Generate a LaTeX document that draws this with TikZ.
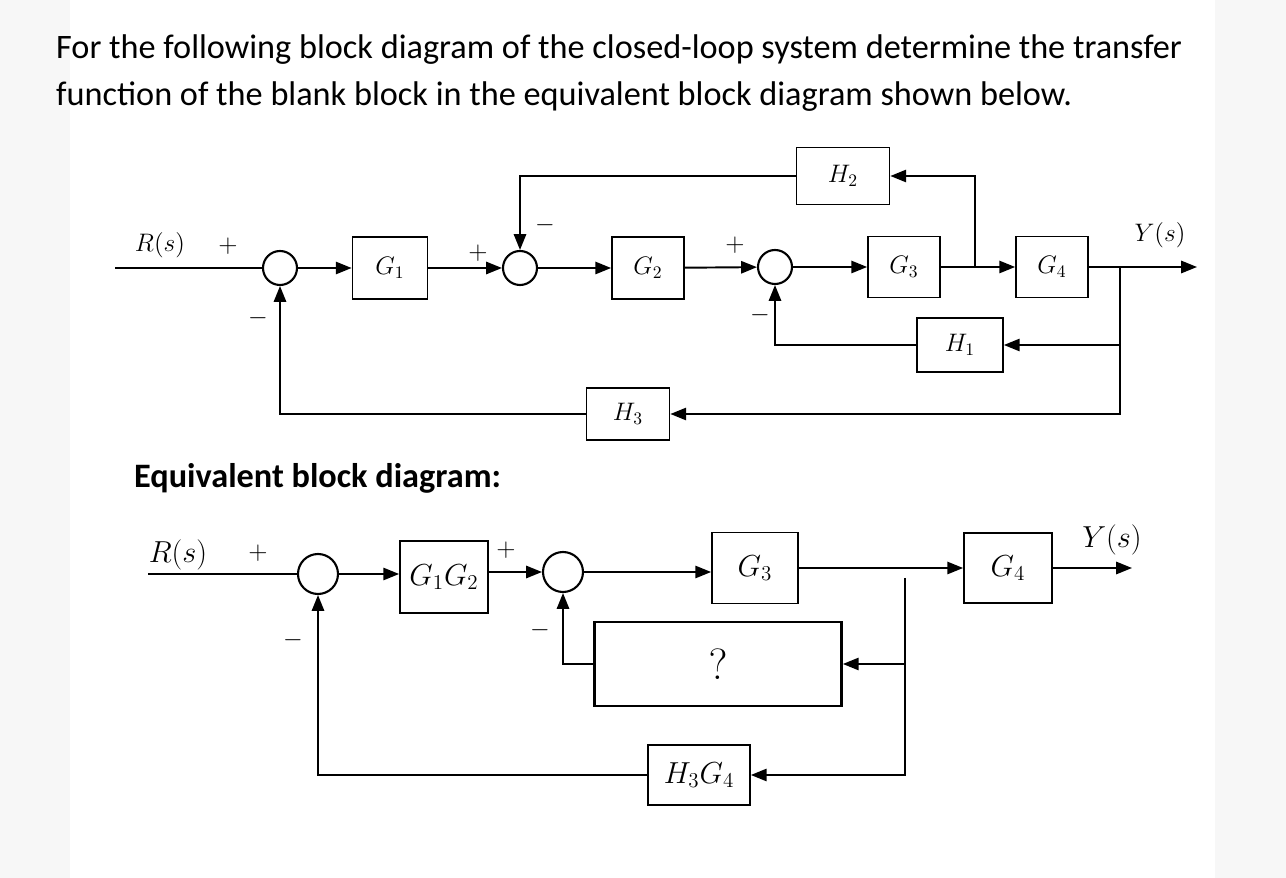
\documentclass[tikz,border=0pt]{standalone}
\usepackage{fontspec}
\setmainfont{Carlito}
\usetikzlibrary{arrows.meta}
\begin{document}
\begin{tikzpicture}[x=0.02cm,y=-0.02cm,
    block/.style={draw,line width=1pt,inner sep=0pt},
    sumnode/.style={draw,circle,line width=1.2pt,inner sep=0pt},
    sig/.style={line width=1.1pt},
    arr/.style={sig,-{Triangle[length=9pt,width=7pt]}},
    lbl/.style={font=\fontsize{14}{16}\selectfont},
    big/.style={font=\fontsize{17}{20}\selectfont}]
    \fill[gray!6] (0,0) rectangle (1286,878);
    \fill[white] (70,0) rectangle (1215,878);
    \useasboundingbox (0,0) rectangle (1286,878);

    % question
    \node[anchor=west,font=\fontsize{19.5}{23}\selectfont] at (50,50) {For the following block diagram of the closed-loop system determine the transfer};
    \node[anchor=west,font=\fontsize{19.5}{23}\selectfont] at (50,97) {function of the blank block in the equivalent block diagram shown below.};

    % original diagram
    \coordinate (in1) at (115,268);
    \node[sumnode,minimum size=0.68cm] (s1) at (280,268) {};
    \node[block,minimum width=1.5cm,minimum height=1.24cm,lbl] (g1) at (390,268) {$G_1$};
    \node[sumnode,minimum size=0.68cm] (s2) at (520,268) {};
    \node[block,minimum width=1.44cm,minimum height=1.24cm,lbl] (g2) at (648,268) {$G_2$};
    \node[sumnode,minimum size=0.68cm] (s3) at (775,267) {};
    \node[block,minimum width=1.44cm,minimum height=1.22cm,lbl] (g3) at (904,267) {$G_3$};
    \node[block,minimum width=1.44cm,minimum height=1.22cm,lbl] (g4) at (1052,267) {$G_4$};
    \coordinate (out1) at (1197,267);
    \node[block,minimum width=1.86cm,minimum height=1.14cm,lbl] (h2) at (843,176) {$H_2$};
    \node[block,minimum width=1.72cm,minimum height=1.08cm,lbl] (h1) at (960,345) {$H_1$};
    \node[block,minimum width=1.66cm,minimum height=1.04cm,lbl] (h3) at (628,414) {$H_3$};

    \draw[sig] (in1) -- (s1);
    \draw[arr] (s1) -- (g1);
    \draw[arr] (g1) -- (s2);
    \draw[arr] (s2) -- (g2);
    \draw[arr] (g2) -- (s3);
    \draw[arr] (s3) -- (g3);
    \draw[arr] (g3) -- (g4);
    \draw[arr] (g4) -- (out1);
    \draw[arr] (975,267) |- (h2);
    \draw[arr] (h2) -| (s2);
    \draw[arr] (1120,267) |- (h1);
    \draw[arr] (h1) -| (s3);
    \draw[arr] (1120,345) |- (h3);
    \draw[arr] (h3) -| (s1);

    \node[lbl] (r1) at (160,245) {$R(s)$};
    \node[lbl] (y1) at (1160,235) {$Y(s)$};
    \node[lbl] at (228,246) {$+$};
    \node[lbl] at (478,253) {$+$};
    \node[lbl] at (735,245) {$+$};
    \node[lbl] at (258,318) {$-$};
    \node[lbl] at (545,225) {$-$};
    \node[lbl] at (760,315) {$-$};

    % equivalent diagram
    \node[anchor=west,font=\bfseries\fontsize{19.5}{23}\selectfont] at (128,478) {Equivalent block diagram:};
    \coordinate (in2) at (148,574);
    \node[sumnode,minimum size=0.8cm] (sa) at (318,574) {};
    \node[block,minimum width=1.76cm,minimum height=1.44cm,big] (g12) at (444,577) {$G_1G_2$};
    \node[sumnode,minimum size=0.8cm] (sb) at (563,572) {};
    \node[block,minimum width=1.72cm,minimum height=1.42cm,big] (g3b) at (755,568) {$G_3$};
    \node[block,minimum width=1.76cm,minimum height=1.4cm,big] (g4b) at (1008,568) {$G_4$};
    \coordinate (out2) at (1132,568);
    \node[block,line width=1.6pt,minimum width=4.94cm,minimum height=1.68cm,font=\fontsize{24}{28}\selectfont] (q) at (718,664) {$?$};
    \node[block,minimum width=2.04cm,minimum height=1.2cm,big] (h34) at (699,775) {$H_3G_4$};

    \draw[sig] (in2) -- (sa);
    \draw[arr] (sa) -- (sa -| g12.west);
    \draw[arr] (g12.east |- sb) -- (sb);
    \draw[arr] (sb) -- (sb -| g3b.west);
    \draw[arr] (g3b) -- (g4b);
    \draw[arr] (g4b) -- (out2);
    \draw[arr] (905,578) |- (q);
    \draw[arr] (q) -| (sb);
    \draw[arr] (905,664) |- (h34);
    \draw[arr] (h34) -| (sa);

    \node[big] (r2) at (178,555) {$R(s)$};
    \node[big] (y2) at (1112,540) {$Y(s)$};
    \node[lbl] at (258,553) {$+$};
    \node[lbl] at (506,550) {$+$};
    \node[lbl] at (293,640) {$-$};
    \node[lbl] at (540,630) {$-$};
\end{tikzpicture}
\end{document}
